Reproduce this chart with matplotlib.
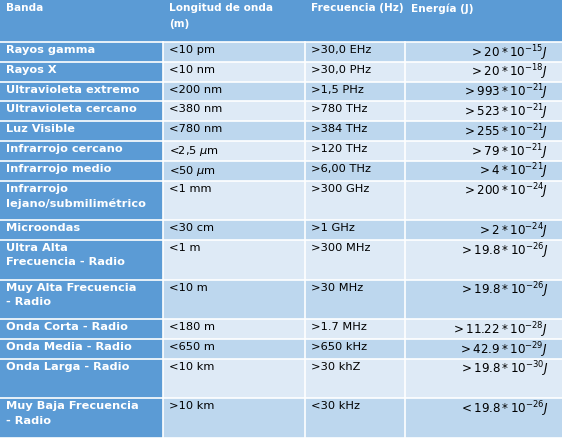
import matplotlib
matplotlib.use("Agg")
from matplotlib import pyplot as plt
from matplotlib.patches import Rectangle

##### DATOS
encabezados = ["Banda", "Longitud de onda\n(m)", "Frecuencia (Hz)", "Energía (J)"]
bandas = ["Rayos gamma", "Rayos X", "Ultravioleta extremo", "Ultravioleta cercano",
          "Luz Visible", "Infrarrojo cercano", "Infrarrojo medio",
          "Infrarrojo\nlejano/submilimétrico", "Microondas",
          "Ultra Alta\nFrecuencia - Radio", "Muy Alta Frecuencia\n- Radio",
          "Onda Corta - Radio", "Onda Media - Radio", "Onda Larga - Radio",
          "Muy Baja Frecuencia\n- Radio"]
longitudes = ["<10 pm", "<10 nm", "<200 nm", "<380 nm", "<780 nm", "<2,5 $\\mu$m",
              "<50 $\\mu$m", "<1 mm", "<30 cm", "<1 m", "<10 m", "<180 m", "<650 m",
              "<10 km", ">10 km"]
frecuencias = [">30,0 EHz", ">30,0 PHz", ">1,5 PHz", ">780 THz", ">384 THz", ">120 THz",
               ">6,00 THz", ">300 GHz", ">1 GHz", ">300 MHz", ">30 MHz", ">1.7 MHz",
               ">650 kHz", ">30 khZ", "<30 kHz"]
signo = [">"] * 14 + ["<"]
mantisa = ["20", "20", "993", "523", "255", "79", "4", "200", "2", "19.8", "19.8",
           "11.22", "42.9", "19.8", "19.8"]
exponente = [-15, -18, -21, -21, -21, -21, -21, -24, -24, -26, -26, -28, -29, -30, -26]
lineas_fila = [1, 1, 1, 1, 1, 1, 1, 2, 1, 2, 2, 1, 1, 2, 2]

##### DIBUJO
W, H = 562, 438
fig = plt.figure(figsize=(W / 100, H / 100), dpi=100)
ax = fig.add_axes([0, 0, 1, 1])
ax.set_xlim(0, W)
ax.set_ylim(H, 0)
ax.axis("off")

cols = [0, 163, 305, 405, 562]
azul = "#5B9BD5"
claro1 = "#BDD7EE"
claro2 = "#DEEAF6"
fs = 8.2
hdr_h = 42
unit = (H - hdr_h) / sum(lineas_fila)

# encabezado
ax.add_patch(Rectangle((0, 0), W, hdr_h, color=azul, lw=0))
for i, t in enumerate(encabezados):
    ax.text(cols[i] + 6, 3, t, color="white", fontsize=7.6, fontweight="bold",
            va="top", ha="left", linespacing=1.7)

y = hdr_h
for k in range(len(bandas)):
    h = unit * lineas_fila[k]
    fondo = claro1 if k % 2 == 0 else claro2
    ax.add_patch(Rectangle((0, y), cols[1], h, color=azul, lw=0))
    ax.add_patch(Rectangle((cols[1], y), W - cols[1], h, color=fondo, lw=0))
    ax.text(6, y + 3, bandas[k], color="white", fontsize=fs, fontweight="bold",
            va="top", ha="left", linespacing=1.55)
    ax.text(cols[1] + 6, y + 3, longitudes[k], color="black", fontsize=fs, va="top")
    ax.text(cols[2] + 6, y + 3, frecuencias[k], color="black", fontsize=fs, va="top")
    e = "$%s %s * 10^{%d} J$" % ("<" if signo[k] == "<" else ">", mantisa[k], exponente[k])
    ax.text(548, y + 1, e, color="black", fontsize=8.6, va="top", ha="right")
    y += h
    ax.plot([0, W], [y, y], color="white", lw=1.2)

ax.plot([0, W], [hdr_h, hdr_h], color="white", lw=1.2)
for c in cols[1:-1]:
    ax.plot([c, c], [hdr_h, H], color="white", lw=1.2)

plt.savefig("out.png", dpi=100)
